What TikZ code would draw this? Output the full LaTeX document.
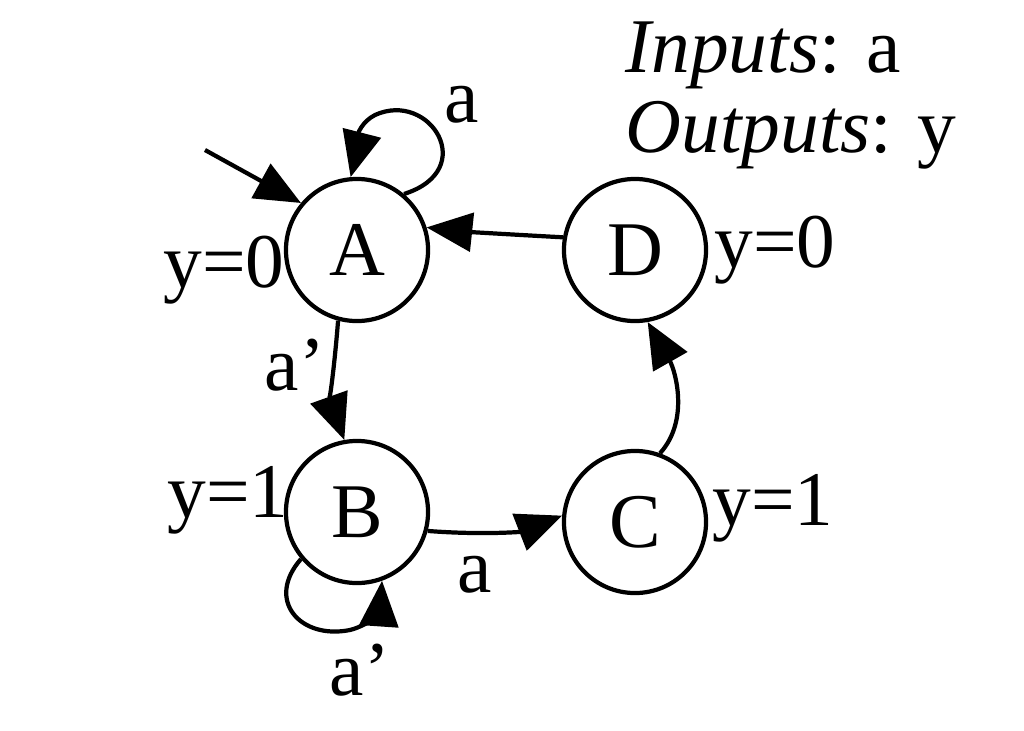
\documentclass[tikz,border=0pt]{standalone}
\usepackage{fontspec}
\setmainfont{Liberation Serif}
\usetikzlibrary{arrows.meta}
\begin{document}
\begin{tikzpicture}[x=0.01cm,y=-0.01cm,
  st/.style={circle,draw,line width=1.2pt,minimum size=1.42cm,inner sep=0pt,font=\fontsize{22}{24}\selectfont},
  lb/.style={font=\fontsize{22}{24}\selectfont,inner sep=0pt},
  ar/.style={line width=1.2pt,-{Triangle[length=13pt,width=11pt]}}]
\useasboundingbox (0,0) rectangle (1024,730);
\node[st] (A) at (357,250) {A};
\node[st] (B) at (357,512) {B};
\node[st] (C) at (635,522) {C};
\node[st] (D) at (635,250) {D};
\node[lb] (ya) at (224,270) {y=0};
\node[lb] (yb) at (228,500) {y=1};
\node[lb] (yc) at (773,508) {y=1};
\node[lb] (yd) at (775,250) {y=0};
\node[lb,anchor=west] (in) at (625,55) {\textit{Inputs}: a};
\node[lb,anchor=west] (out) at (625,135) {\textit{Outputs}: y};
\coordinate (s) at (205,150);
\draw[ar] (s) -- (A.140);
\draw[ar] (A.50) .. controls (480,170) and (430,90) .. (375,115) .. controls (350,128) and (355,160) .. (A.95);
\node[lb] (la) at (462,105) {a};
\draw[ar] (D.170) .. controls (520,235) and (470,232) .. (A.18);
\draw[ar] (A.-105) .. controls (335,360) and (330,400) .. (B.100);
\node[lb] (lab) at (295,365) {a’};
\draw[ar] (B.-15) .. controls (480,535) and (520,532) .. (C.175);
\node[lb] (lbc) at (475,575) {a};
\draw[ar] (C.70) .. controls (690,420) and (675,370) .. (D.-80);
\draw[ar] (B.-140) .. controls (265,600) and (300,640) .. (350,630) .. controls (370,625) and (380,610) .. (B.-70);
\node[lb] (lbb) at (360,670) {a’};
\end{tikzpicture}
\end{document}
